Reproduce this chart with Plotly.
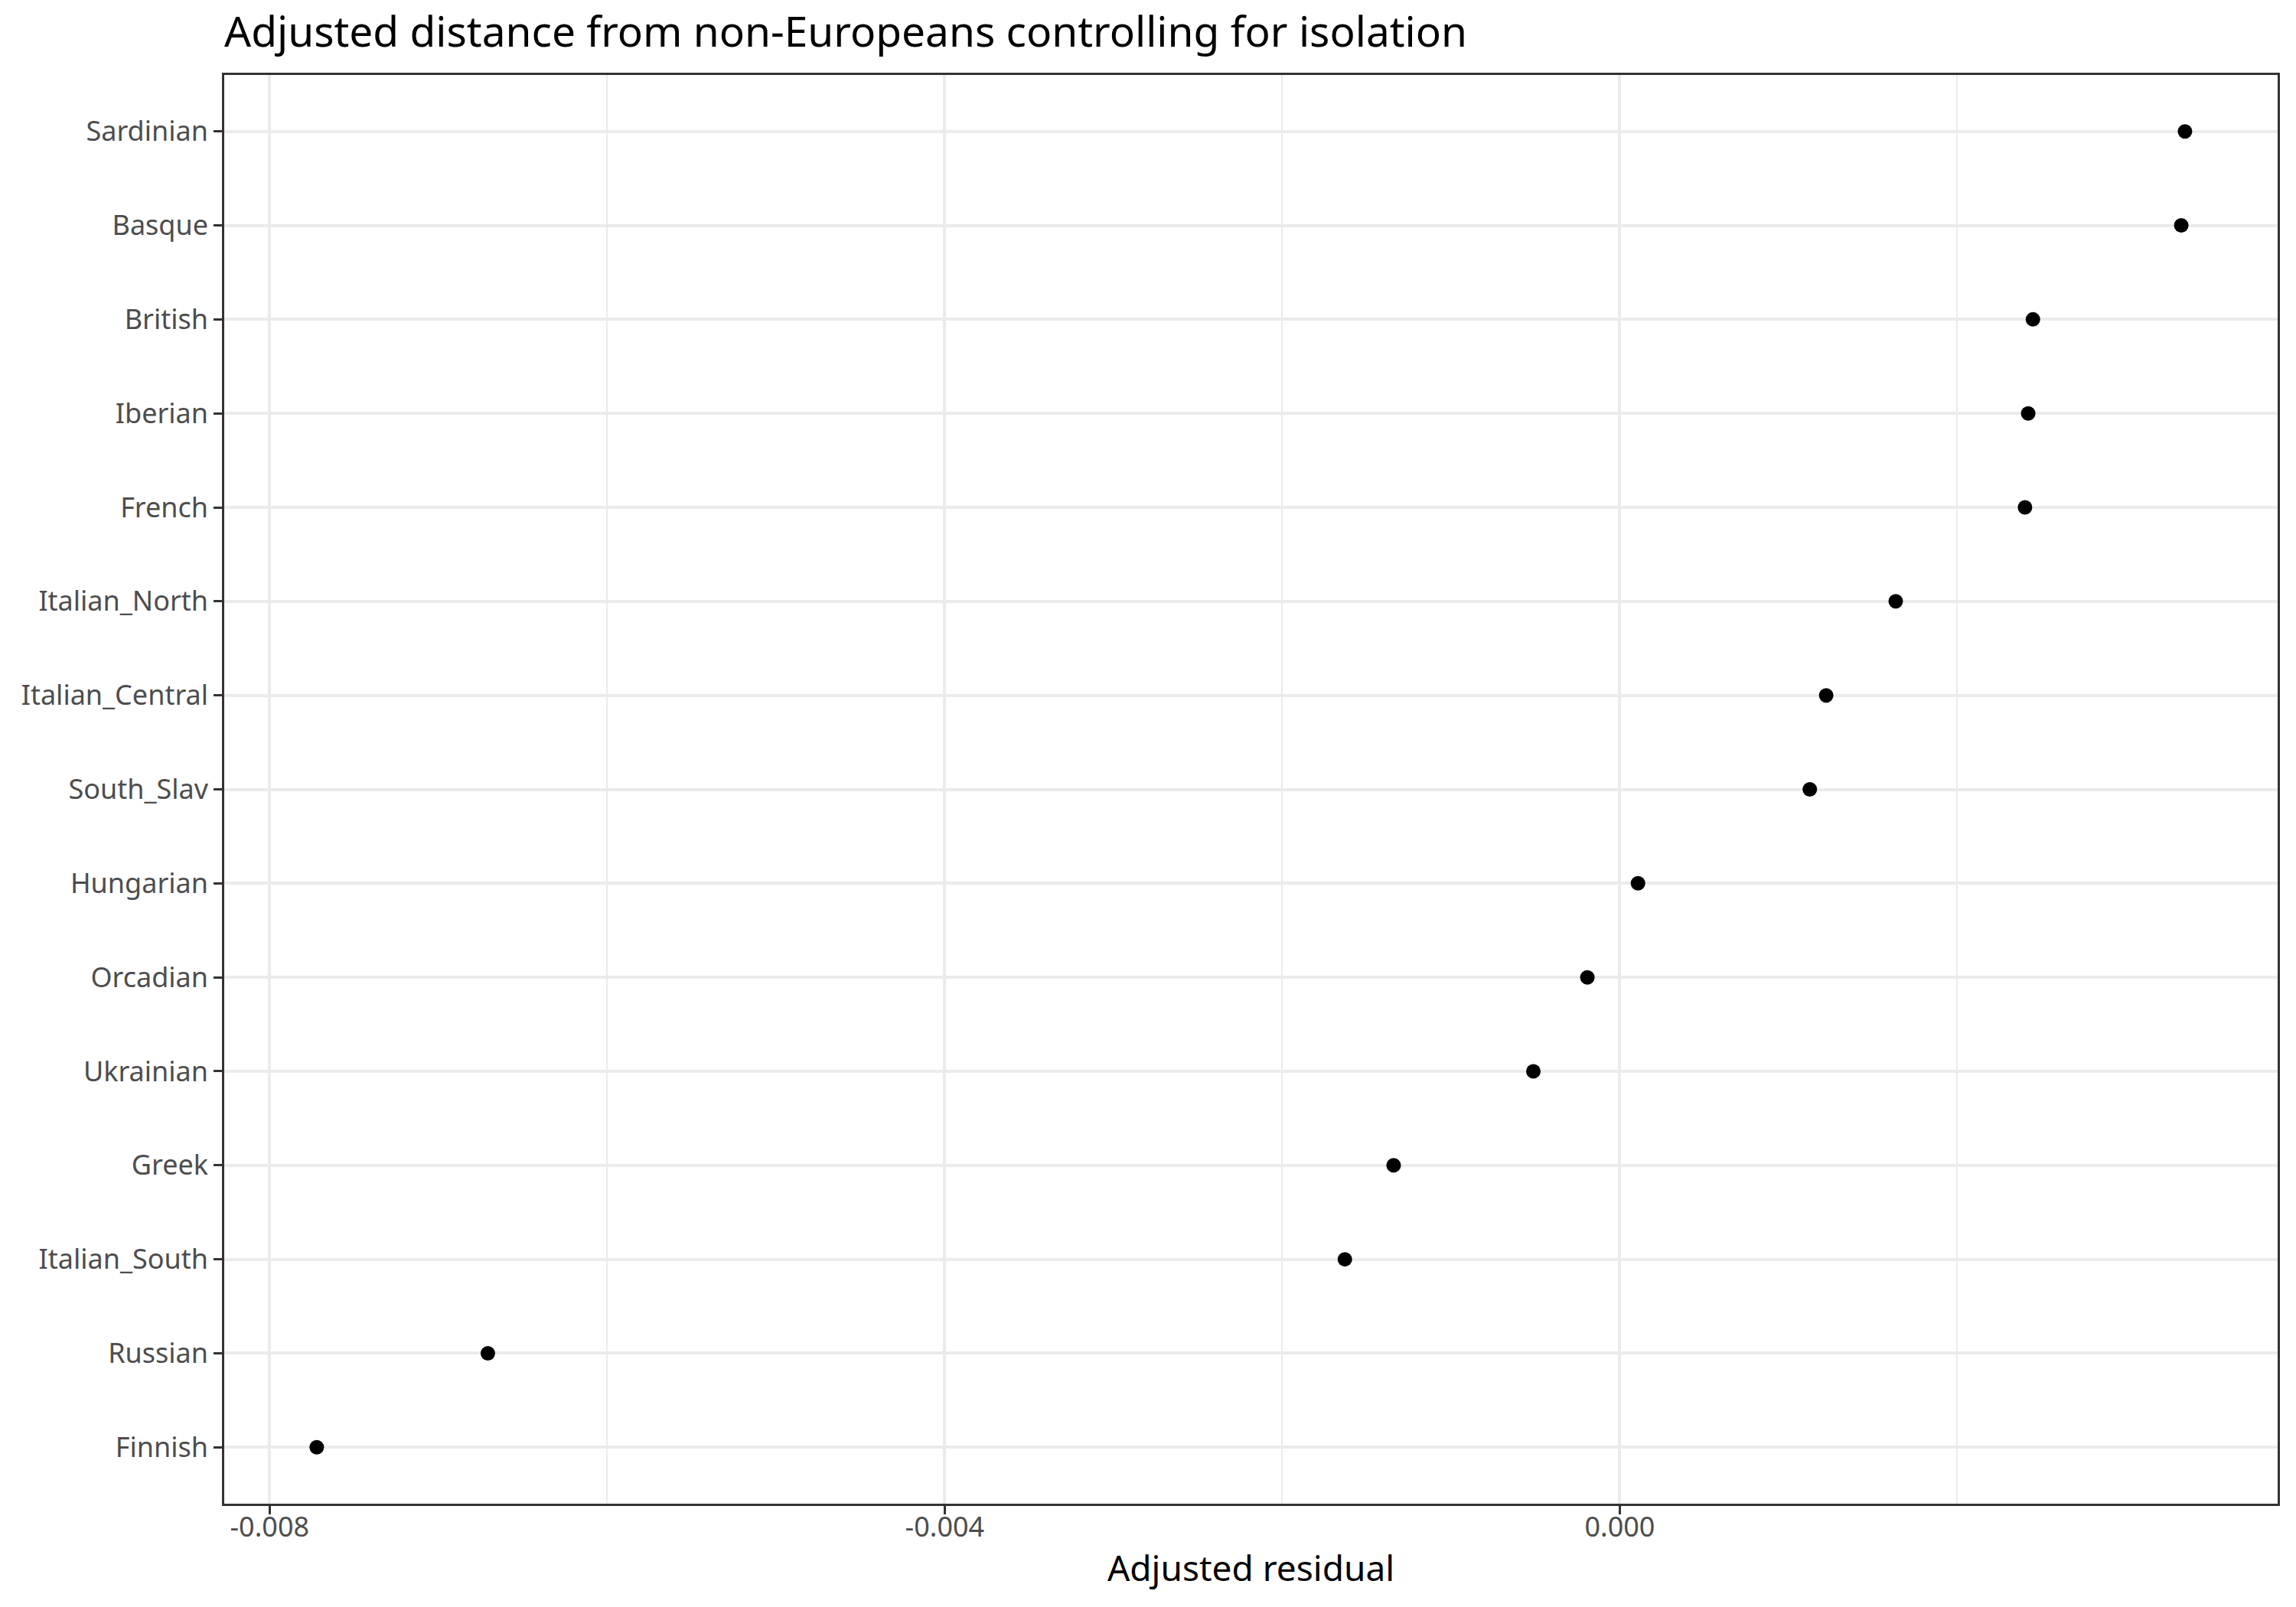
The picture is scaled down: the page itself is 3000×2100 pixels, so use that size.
import plotly.graph_objects as go

# Categories from bottom to top
populations = ["Finnish", "Russian", "Italian_South", "Greek", "Ukrainian", "Orcadian",
               "Hungarian", "South_Slav", "Italian_Central", "Italian_North", "French",
               "Iberian", "British", "Basque", "Sardinian"]
residuals = [-0.007721, -0.006707, -0.001629, -0.001340, -0.000512, -0.000192,
             0.000108, 0.001126, 0.001223, 0.001635, 0.002401,
             0.002420, 0.002448, 0.003327, 0.003349]

x_tickvals = [-0.008, -0.004, 0.000]
x_ticktext = ["-0.008", "-0.004", "0.000"]

FONT = "Noto Sans"

fig = go.Figure()
fig.add_trace(go.Scatter(
    x=residuals, y=populations, mode="markers",
    marker=dict(color="black", size=19, line=dict(width=0)),
    showlegend=False, hoverinfo="x+y",
))

W, H = 3000, 2100
ml, mr, mt, mb = 293, 24, 98, 135

fig.update_layout(
    width=W, height=H,
    margin=dict(l=ml, r=mr, t=mt, b=mb, autoexpand=False),
    paper_bgcolor="white", plot_bgcolor="white",
    font=dict(family=FONT, color="#4D4D4D", size=36),
    title=dict(
        text="Adjusted distance from non-Europeans controlling for isolation",
        font=dict(family=FONT, size=55, color="black"),
        x=0, xref="paper", xanchor="left",
        y=1 - 42 / H, yref="container", yanchor="middle",
    ),
    xaxis=dict(
        range=[-0.008269, 0.003898],
        tickvals=x_tickvals, ticktext=x_ticktext,
        showgrid=True, gridcolor="#EBEBEB", gridwidth=3.5,
        minor=dict(tick0=-0.008, dtick=0.002, showgrid=True, gridcolor="#EBEBEB",
                   gridwidth=2, ticklen=0),
        ticks="outside", ticklen=11, tickwidth=2.5, tickcolor="#333333",
        tickfont=dict(family=FONT, size=36, color="#4D4D4D"),
        ticklabelstandoff=-14,
        showline=True, linecolor="#333333", linewidth=2.5, mirror=True,
        zeroline=False,
        title=dict(text="Adjusted residual", font=dict(family=FONT, size=46, color="black"),
                   standoff=16),
    ),
    yaxis=dict(
        type="category", categoryorder="array", categoryarray=populations,
        range=[-0.6, 14.6],
        showgrid=True, gridcolor="#EBEBEB", gridwidth=3.5,
        ticks="outside", ticklen=11, tickwidth=2.5, tickcolor="#333333",
        tickfont=dict(family=FONT, size=36, color="#4D4D4D"),
        showline=True, linecolor="#333333", linewidth=2.5, mirror=True,
        zeroline=False,
    ),
)

fig.write_html("out.html")
